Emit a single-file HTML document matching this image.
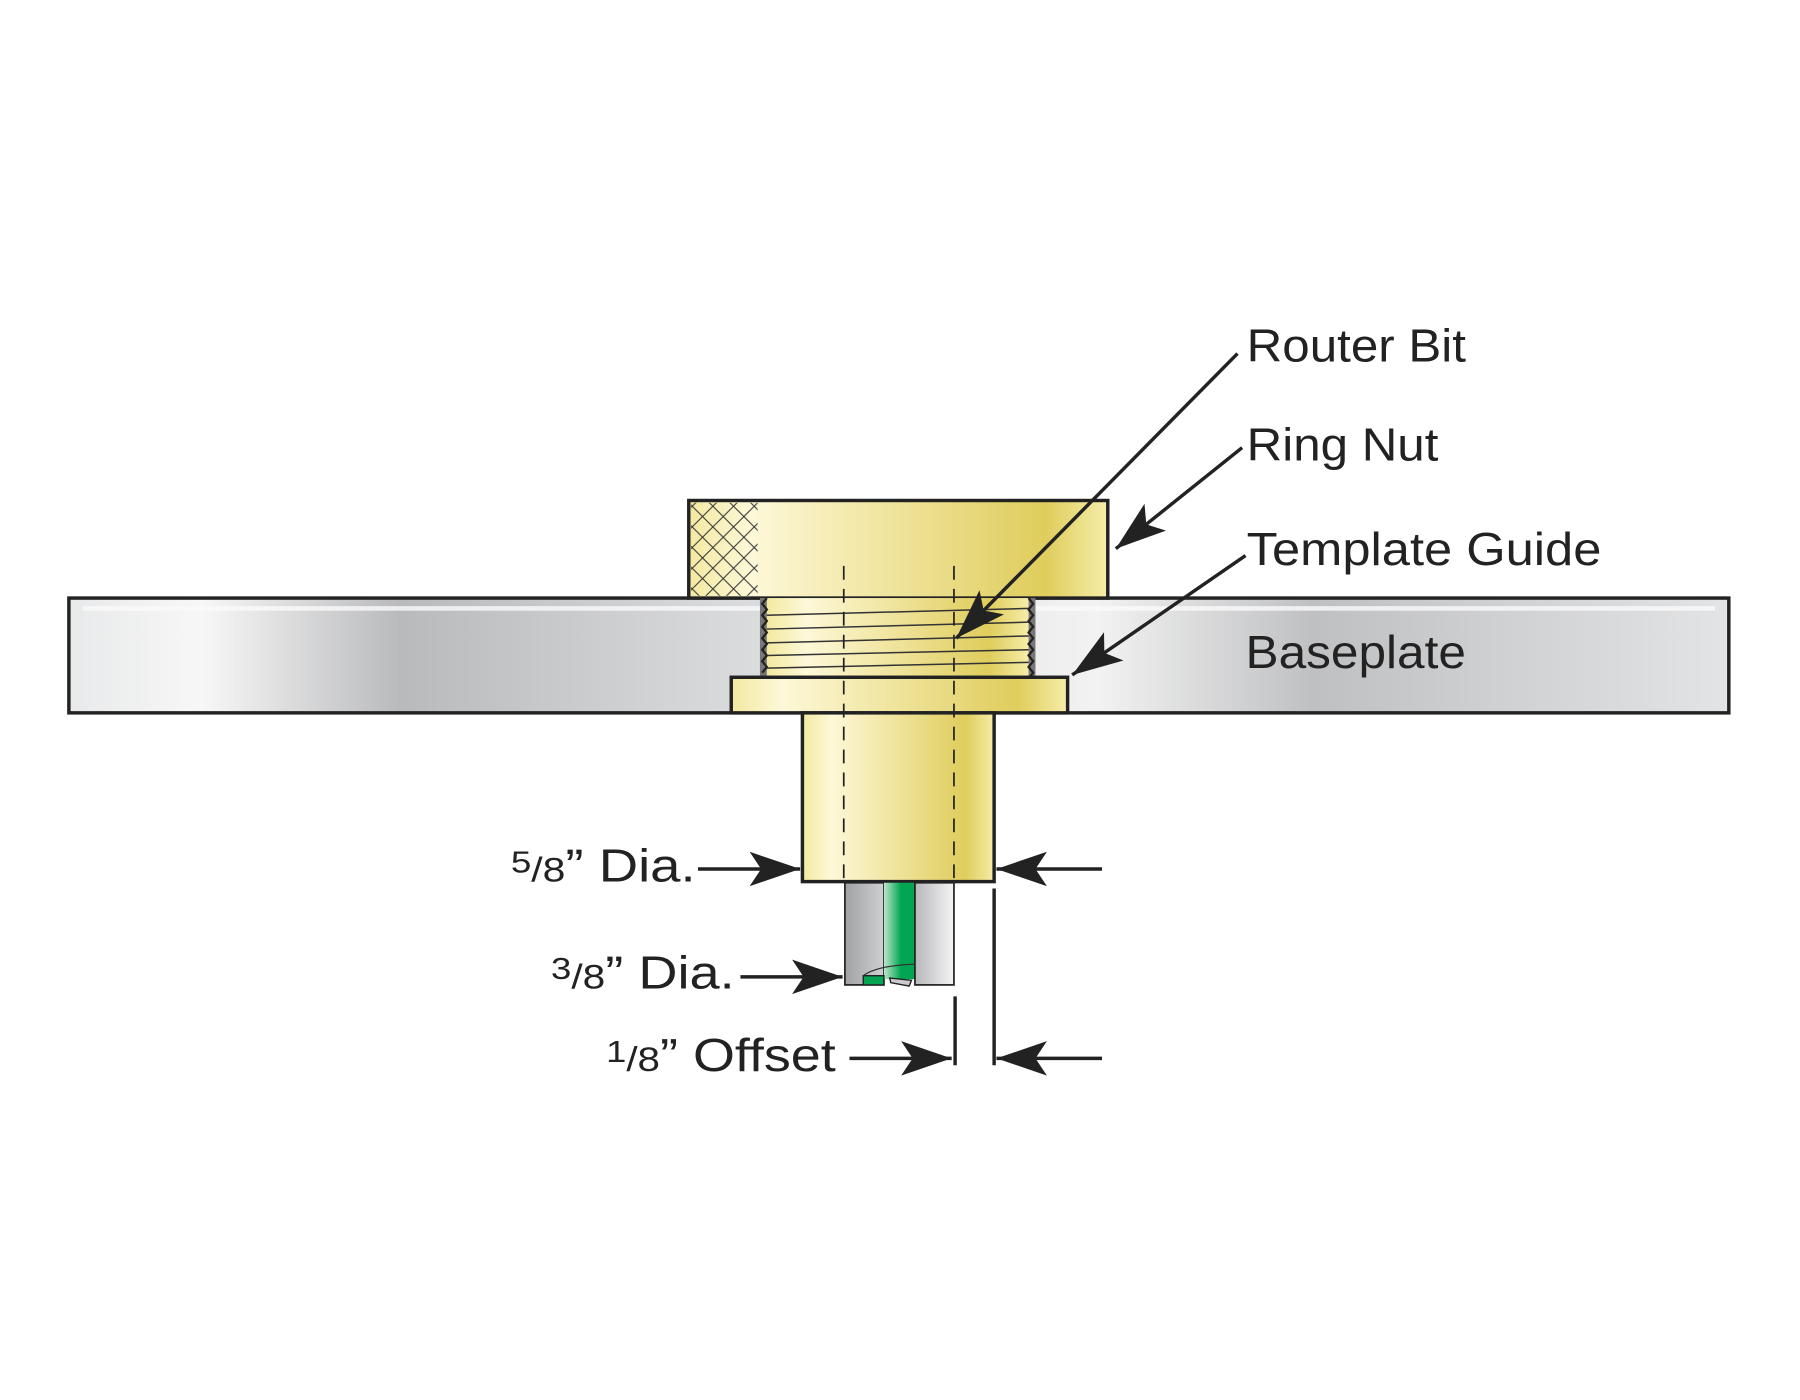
<!DOCTYPE html>
<html><head><style>html,body{margin:0;padding:0;background:#fff}svg{display:block}</style></head>
<body>
<svg width="1800" height="1400" viewBox="0 0 1568 1219.6" preserveAspectRatio="none" xmlns="http://www.w3.org/2000/svg" style="font-family:'Liberation Sans',Arial,sans-serif">
<defs>
<linearGradient id="y" x1="0" x2="1" y1="0" y2="0">
<stop offset="0" stop-color="#f3e9a0"/><stop offset="0.15" stop-color="#fdf8d8"/><stop offset="0.5" stop-color="#efe39a"/><stop offset="0.85" stop-color="#dfcd5c"/><stop offset="1" stop-color="#f6eda8"/>
</linearGradient>
<linearGradient id="g" x1="0" x2="1" y1="0" y2="0">
<stop offset="0" stop-color="#e8e9ea"/><stop offset="0.08" stop-color="#f7f7f7"/><stop offset="0.2" stop-color="#b9babc"/><stop offset="0.4" stop-color="#d9dadb"/><stop offset="0.62" stop-color="#f2f2f2"/><stop offset="0.75" stop-color="#bfc0c2"/><stop offset="1" stop-color="#e3e4e5"/>
</linearGradient>
<linearGradient id="gr" x1="0" x2="1"><stop offset="0" stop-color="#bfe6cc"/><stop offset="0.55" stop-color="#00a651"/><stop offset="1" stop-color="#00a651"/></linearGradient>
<linearGradient id="sl" x1="0" x2="1"><stop offset="0" stop-color="#9fa1a4"/><stop offset="1" stop-color="#cfd0d2"/></linearGradient>
<linearGradient id="sr" x1="0" x2="1"><stop offset="0" stop-color="#b7b8bb"/><stop offset="1" stop-color="#f4f4f4"/></linearGradient>
<pattern id="kn" width="18" height="18" patternUnits="userSpaceOnUse">
<path d="M0 0L18 18M18 0L0 18" stroke="#333" stroke-width="0.9"/></pattern>
<marker id="b" viewBox="0 0 44 30" refX="44" refY="15" markerWidth="44" markerHeight="30" markerUnits="userSpaceOnUse" orient="auto"><path d="M0 0L44 15L0 30L10 15Z" fill="#222"/></marker>
</defs>
<rect x="60" y="521" width="1446" height="100" fill="url(#g)" stroke="#222" stroke-width="3"/>
<rect x="72" y="528" width="1422" height="4" fill="#fafafa" opacity="0.8"/>
<rect x="600" y="436" width="365" height="85" fill="url(#y)" stroke="#222" stroke-width="3"/>
<rect x="602" y="438" width="58" height="81" fill="url(#kn)"/>
<rect x="662" y="521" width="240" height="69" fill="#777"/>
<rect x="668" y="521" width="228" height="69" fill="url(#y)"/>
<path d="M668 521 l-4 5 4 5 -4 5 4 5 -4 5 4 5 -4 5 4 5 -4 5 4 5 -4 5 4 5 -4 5 M896 521 l4 5 -4 5 4 5 -4 5 4 5 -4 5 4 5 -4 5 4 5 -4 5 4 5 -4 5 4 5 -4 5" fill="none" stroke="#222" stroke-width="2"/>
<g stroke="#333" stroke-width="1.3">
<line x1="668" y1="536" x2="896" y2="530"/><line x1="668" y1="548" x2="896" y2="542"/><line x1="668" y1="560" x2="896" y2="554"/><line x1="668" y1="571" x2="896" y2="566"/><line x1="668" y1="582" x2="896" y2="577"/></g>
<rect x="637" y="590" width="293" height="31" fill="url(#y)" stroke="#222" stroke-width="3"/>
<rect x="699" y="621" width="167" height="147" fill="url(#y)" stroke="#222" stroke-width="3"/>
<g stroke="#222" stroke-width="1.5" stroke-dasharray="12 8"><line x1="735" y1="493" x2="735" y2="766"/><line x1="831" y1="493" x2="831" y2="766"/></g>
<rect x="736" y="769" width="34" height="89" fill="url(#sl)" stroke="#222" stroke-width="1.5"/>
<rect x="770" y="769" width="27" height="84" fill="url(#gr)"/>
<rect x="797" y="769" width="34" height="89" fill="url(#sr)" stroke="#222" stroke-width="1.5"/>
<path d="M752 850 q12 -9 45 -10" fill="none" stroke="#333" stroke-width="1"/>
<path d="M752 850 l18 0 0 8 -18 0z" fill="#00a651" stroke="#222" stroke-width="1.2"/>
<path d="M775 852 l19 2 -2 5 -16 -3z" fill="#ccc" stroke="#222" stroke-width="1.2"/>
<g stroke="#222" stroke-width="3" fill="none">
<line x1="608" y1="757" x2="697" y2="757" marker-end="url(#b)"/>
<line x1="960" y1="757" x2="868" y2="757" marker-end="url(#b)"/>
<line x1="645" y1="851" x2="734" y2="851" marker-end="url(#b)"/>
<line x1="740" y1="922" x2="829" y2="922" marker-end="url(#b)"/>
<line x1="960" y1="922" x2="868" y2="922" marker-end="url(#b)"/>
<line x1="866" y1="774" x2="866" y2="928"/>
<line x1="832" y1="868" x2="832" y2="928"/>
<line x1="1078" y1="308" x2="833" y2="556" marker-end="url(#b)"/>
<line x1="1082" y1="390" x2="972" y2="478" marker-end="url(#b)"/>
<line x1="1085" y1="484" x2="934" y2="588" marker-end="url(#b)"/>
</g>
<g fill="#222" font-size="40">
<text x="1086" y="315" textLength="191" lengthAdjust="spacingAndGlyphs">Router Bit</text>
<text x="1086" y="401" textLength="167" lengthAdjust="spacingAndGlyphs">Ring Nut</text>
<text x="1086" y="492" textLength="309" lengthAdjust="spacingAndGlyphs">Template Guide</text>
<text x="1085" y="582" textLength="192" lengthAdjust="spacingAndGlyphs">Baseplate</text>
<text x="445" y="768" textLength="161" lengthAdjust="spacingAndGlyphs"><tspan font-size="27" dy="-8">5</tspan><tspan font-size="30" dy="8">/8</tspan>” Dia.</text>
<text x="480" y="861" textLength="160" lengthAdjust="spacingAndGlyphs"><tspan font-size="27" dy="-8">3</tspan><tspan font-size="30" dy="8">/8</tspan>” Dia.</text>
<text x="528" y="933" textLength="200" lengthAdjust="spacingAndGlyphs"><tspan font-size="27" dy="-8">1</tspan><tspan font-size="30" dy="8">/8</tspan>” Offset</text>
</g>
</svg>
</body></html>
